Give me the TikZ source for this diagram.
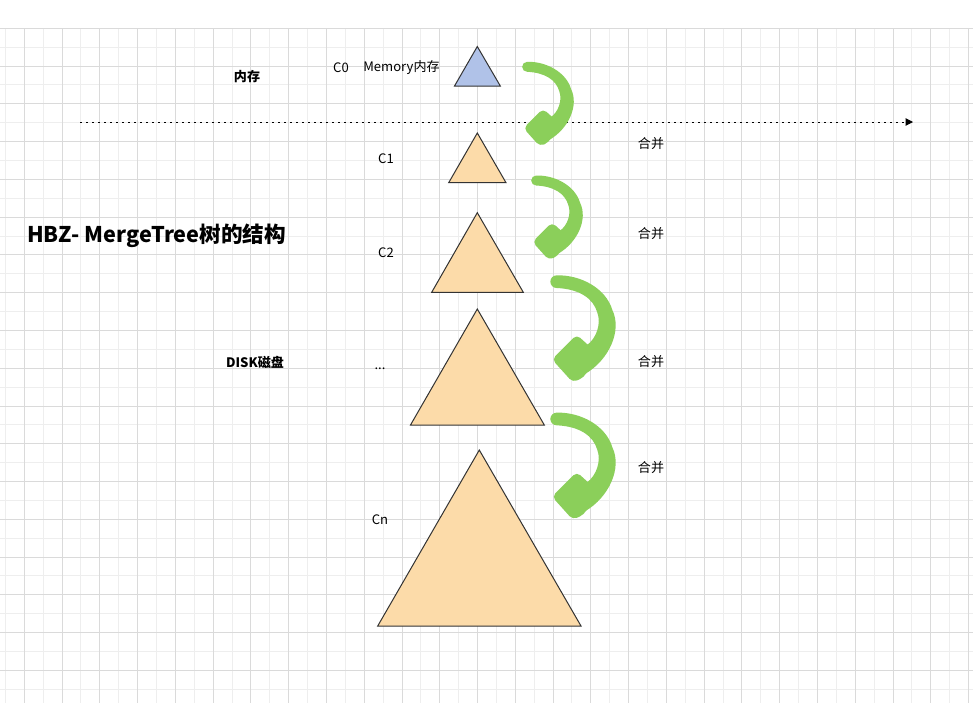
\documentclass[tikz,border=0pt]{standalone}
\usepackage{fontspec}
\setmainfont{Noto Sans CJK SC}
\usetikzlibrary{arrows.meta}
\definecolor{gridDark}{HTML}{DADADA}
\definecolor{gridLight}{HTML}{EEEEEE}
\definecolor{arrowgreen}{RGB}{139,207,90}
\definecolor{memblue}{HTML}{B0C2E8}
\definecolor{diskorange}{HTML}{FCDBA9}
\definecolor{edgegray}{HTML}{333333}
\tikzset{
  lbl/.style={font=\fontsize{9.8}{12}\selectfont, inner sep=0pt, text=black},
  boldlbl/.style={lbl, font=\fontsize{9.8}{12}\selectfont\bfseries},
  titlelbl/.style={inner sep=0pt, font=\fontsize{16.2}{19}\selectfont\bfseries},
  tri/.style={draw=edgegray, line width=0.75pt, line join=miter},
  greenarrow/.pic={
    \begin{scope}[scale=1/3]
      \fill[arrowgreen] (50,16) .. controls (122,14) and (198,55) .. (217,120)
        .. controls (247,182) and (207,270) .. (135,312)
        -- (140,226)
        .. controls (170,205) and (184,160) .. (172,128)
        .. controls (160,85) and (118,57) .. (50,54)
        arc (90:270:19) -- cycle;
      \fill[arrowgreen, rounded corners=3.5pt] (110,194) -- (36,268) -- (98,337) -- (132,322) -- (172,250) -- cycle;
    \end{scope}
  }
}
\begin{document}
\begin{tikzpicture}[x=0.75pt,y=-0.75pt]
\useasboundingbox (0,0) rectangle (973,703);
\fill[white] (0,0) rectangle (973,703);
% grid
\foreach \k in {-1,...,50}
  \draw[gridLight, line width=0.75pt] ({24.3+\k*18.885},28.3) -- ({24.3+\k*18.885},703);
\foreach \k in {0,...,35}
  \draw[gridLight, line width=0.75pt] (0,{28.3+\k*18.885}) -- (973,{28.3+\k*18.885});
\foreach \k in {0,2,...,50}
  \draw[gridDark, line width=0.75pt] ({24.3+\k*18.885},28.3) -- ({24.3+\k*18.885},703);
\foreach \k in {0,2,...,34}
  \draw[gridDark, line width=0.75pt] (0,{28.3+\k*18.885}) -- (973,{28.3+\k*18.885});

% dotted divider
\coordinate (divL) at (80,122);
\coordinate (divR) at (913,122);
\draw[black, line width=0.75pt, dash pattern=on 1.5pt off 3pt, -{Triangle[length=5.5pt,width=5.5pt]}] (divL) -- (divR);

% triangles
\filldraw[tri, fill=memblue] (454.5,86) coordinate (c0l) -- (477.3,46.5) coordinate (c0t) -- (500.3,86) coordinate (c0r) -- cycle;
\filldraw[tri, fill=diskorange] (448.7,182.7) coordinate (c1l) -- (477.3,133) coordinate (c1t) -- (506,182.7) coordinate (c1r) -- cycle;
\filldraw[tri, fill=diskorange] (431.7,292.3) coordinate (c2l) -- (477.3,212.7) coordinate (c2t) -- (523.3,292.3) coordinate (c2r) -- cycle;
\filldraw[tri, fill=diskorange] (410.5,425) coordinate (c3l) -- (477.3,309) coordinate (c3t) -- (544.3,425) coordinate (c3r) -- cycle;
\filldraw[tri, fill=diskorange] (377.7,626) coordinate (cnl) -- (479.3,450) coordinate (cnt) -- (581,626) coordinate (cnr) -- cycle;

% green merge arrows
\pic[scale=0.79] (ga1) at (514,57.6) {greenarrow};
\pic[scale=0.79] (ga2) at (523,171.3) {greenarrow};
\pic (ga3) at (540,270) {greenarrow};
\pic (ga4) at (540,407.3) {greenarrow};

% labels
\node[titlelbl] (title) at (156.5,236) {HBZ- MergeTree树的结构};
\node[boldlbl] (mem) at (247,77) {内存};
\node[boldlbl] (disk) at (255,362) {DISK磁盘};
\node[lbl] (lc0) at (341,67.5) {C0};
\node[lbl] (lmem) at (401.5,67.5) {Memory内存};
\node[lbl] (lc1) at (386,159) {C1};
\node[lbl] (lc2) at (386,253) {C2};
\node[lbl] (ldots) at (380,369) {...};
\node[lbl] (lcn) at (380,520) {Cn};
\node[lbl] (m1) at (651,144) {合并};
\node[lbl] (m2) at (651,234) {合并};
\node[lbl] (m3) at (651,362) {合并};
\node[lbl] (m4) at (651,468) {合并};
\end{tikzpicture}
\end{document}
